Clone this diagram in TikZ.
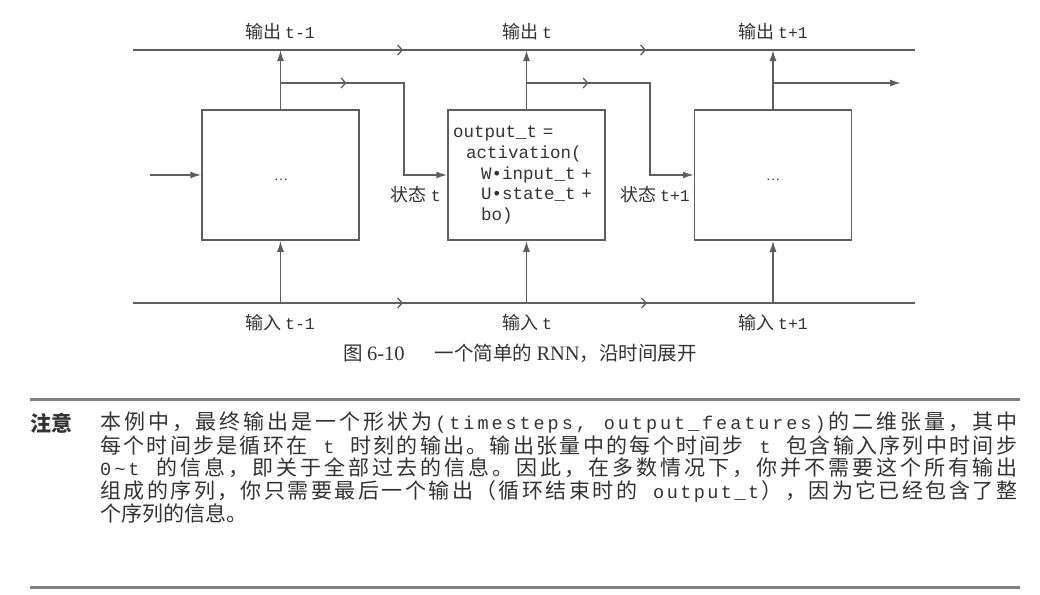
\documentclass[tikz,border=0pt]{standalone}
\usepackage{fontspec}
\setmainfont{Noto Sans CJK SC}
\newfontfamily\mono{Liberation Mono}
\newfontfamily\tnr{Liberation Serif}
\usetikzlibrary{arrows.meta,decorations.markings}
\definecolor{linec}{HTML}{5E5E5E}
\definecolor{txt}{HTML}{333333}
\definecolor{rulec}{HTML}{808080}

\newcommand\notecjk{\normalfont\fontsize{21}{23}\selectfont}
\newcommand\notemono{\mono\fontsize{18.5}{23}\selectfont}
\newcommand\lm[1]{{\mono\fontsize{16.5}{20}\selectfont #1}}
\def\tld{\char"7E\relax}

\makeatletter
\def\sp@stop{\sp@stop@}
\def\TTon{\TTon@}
\def\TToff{\TToff@}
\def\sp@fill{plus 1fil}
\newcommand\spreadline[2]{\hbox to #1{\notecjk\let\sp@glue\relax\sp@loop#2\sp@stop}}
\newcommand\naturalline[1]{\hbox{\notecjk\def\sp@fill{}\let\sp@glue\relax\sp@loop#1\sp@stop}}
\def\sp@loop#1{%
  \ifx#1\sp@stop
    \let\sp@next\relax
  \else
    \ifx#1\TTon \notemono
    \else\ifx#1\TToff \notecjk
    \else \sp@glue#1\def\sp@glue{\hskip 0pt \sp@fill\relax}%
    \fi\fi
    \let\sp@next\sp@loop
  \fi
  \sp@next}
\makeatother

\tikzset{
  line/.style={draw=linec, line width=1.5pt},
  arr/.style={line, -{Latex[length=11pt,width=7pt]}},
  chev/.style={postaction={decorate,decoration={markings,
      mark=at position #1 with {\arrow[line width=1.3pt]{Straight Barb[length=4.5pt,width=10pt]}}}}},
  box/.style={draw=linec, line width=1.5pt, minimum width=157pt, minimum height=130pt, inner sep=0pt},
  lab/.style={text=txt, font=\fontsize{18}{20}\selectfont, inner sep=0pt},
  dots/.style={text=txt, font=\tnr\fontsize{14}{14}\selectfont, inner sep=0pt},
  rule/.style={draw=rulec, line width=3pt},
  noteline/.style={anchor=west, inner sep=0pt, text=txt},
}

\begin{document}
\begin{tikzpicture}[x=1pt,y=-1pt]
\useasboundingbox (0,0) rectangle (1040,594);
\fill[white] (0,0) rectangle (1040,594);

% boxes
\node[box] (b1) at (280.5,175) {};
\node[box, text width=147pt, inner xsep=5pt, align=left, text=txt,
      font=\mono\fontsize{17.5}{20.7}\selectfont] (b2) at (526.5,175)
  {output\_t =\\
   \hspace*{13pt}activation(\\
   \hspace*{28pt}W•input\_t +\\
   \hspace*{28pt}U•state\_t +\\
   \hspace*{28pt}bo)};
\node[box] (b3) at (773,175) {};
\node[dots] (d1) at (281,180) {…};
\node[dots] (d3) at (773,180) {…};

% main lines
\coordinate (TL) at (133,50);
\coordinate (TR) at (915,50);
\coordinate (BL) at (133,303);
\coordinate (BR) at (915,303);
\draw[line, chev=270pt, chev=513pt] (TL) -- (TR);
\draw[line, chev=270pt, chev=514pt] (BL) -- (BR);

% vertical arrows
\foreach \b in {b1,b2,b3}{
  \draw[arr] (\b.north) -- (\b.north |- TL);
  \draw[arr] (\b.south |- BL) -- (\b.south);
}

% state branches
\coordinate (k1) at (b1.north |- 0,83);
\coordinate (c1) at (404,83);
\coordinate (k2) at (b2.north |- 0,83);
\coordinate (c2) at (650,83);
\coordinate (k3) at (b3.north |- 0,83);
\coordinate (e3) at (901,83);
\coordinate (in0) at (150,175);
\draw[arr, chev=66pt] (k1) -- (c1) |- (b2.west);
\draw[arr, chev=62pt] (k2) -- (c2) |- (b3.west);
\draw[arr] (k3) -- (e3);
\draw[arr] (in0) -- (b1.west);

% labels
\node[lab] (o1) at (280,32) {输出 \lm{t-1}};
\node[lab] (o2) at (527,32) {输出 \lm{t}};
\node[lab] (o3) at (773,32) {输出 \lm{t+1}};
\node[lab] (i1) at (280,323) {输入 \lm{t-1}};
\node[lab] (i2) at (527,323) {输入 \lm{t}};
\node[lab] (i3) at (773,323) {输入 \lm{t+1}};
\node[lab, anchor=east] (s1) at (441,195) {状态 \lm{t}};
\node[lab, anchor=east] (s2) at (690,195) {状态 \lm{t+1}};

% caption
\node[text=txt, inner sep=0pt, font=\fontsize{19.5}{22}\selectfont] (cap) at (520,353)
  {图 {\tnr\fontsize{20.5}{22}\selectfont 6-10}\hspace{30pt}一个简单的 {\tnr\fontsize{20.5}{22}\selectfont RNN}，沿时间展开};

% note
\draw[rule] (30,399) -- (1020,399);
\draw[rule] (30,587) -- (1020,587);
\node[noteline, font=\bfseries\fontsize{21}{23}\selectfont] (nt) at (30,423) {注意};
\node[noteline] (n1) at (100,423) {\spreadline{917pt}{本例中，最终输出是一个形状为\TTon(timesteps,\ output\_features)\TToff 的二维张量，其中}};
\node[noteline] (n2) at (100,446) {\spreadline{917pt}{每个时间步是循环在\TTon\ t\ \TToff 时刻的输出。输出张量中的每个时间步\TTon\ t\ \TToff 包含输入序列中时间步}};
\node[noteline] (n3) at (100,468) {\spreadline{917pt}{\TTon 0\tld t\ \TToff 的信息，即关于全部过去的信息。因此，在多数情况下，你并不需要这个所有输出}};
\node[noteline] (n4) at (100,491) {\spreadline{917pt}{组成的序列，你只需要最后一个输出（循环结束时的\TTon\ output\_t\TToff ），因为它已经包含了整}};
\node[noteline] (n5) at (100,513) {\naturalline{个序列的信息。}};
\end{tikzpicture}
\end{document}
